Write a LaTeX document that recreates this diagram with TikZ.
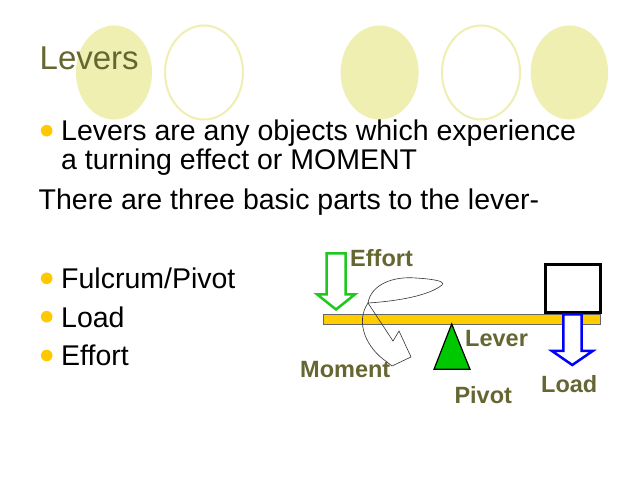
\documentclass[tikz,border=0pt]{standalone}
\usepackage{fontspec}
\setmainfont{Liberation Sans}
\definecolor{olive}{RGB}{102,102,51}
\definecolor{circfill}{RGB}{239,239,178}
\definecolor{bulletc}{RGB}{255,200,0}
\definecolor{bargold}{RGB}{255,204,0}
\definecolor{pivgreen}{RGB}{0,200,0}
\definecolor{effgreen}{RGB}{30,200,30}
\begin{document}
\begin{tikzpicture}[x=1pt,y=-1pt,
  deco/.style={fill=circfill,draw=none},
  decoring/.style={draw=circfill,line width=2pt,fill=white},
  bodytext/.style={anchor=base west,inner sep=0pt,font=\fontsize{28.5}{28.5}\selectfont},
  bul/.style={fill=bulletc,draw=none},
  lab/.style={anchor=base west,inner sep=0pt,text=olive,font=\fontsize{23.5}{23.5}\selectfont\bfseries},
  blockarrow/.style={line width=2.5pt,fill=white,line join=miter}
]
\useasboundingbox (0,0) rectangle (638,478);
\fill[white] (0,0) rectangle (638,478);
% decorative ellipses
\path[deco] (114,72.5) ellipse [x radius=38, y radius=47];
\path[decoring] (204,72.5) ellipse [x radius=39, y radius=47];
\path[deco] (379.6,72.5) ellipse [x radius=39, y radius=47];
\path[decoring] (481,72.5) ellipse [x radius=39, y radius=47];
\path[deco] (569.4,72.5) ellipse [x radius=38.7, y radius=47];
% title
\node[anchor=base west,inner sep=0pt,text=olive,font=\fontsize{33}{33}\selectfont] (title) at (39.5,69.5) {Levers};
% body text
\fill[bul] (46.7,130.7) circle (5.8);
\node[bodytext] (l1) at (61,141) {Levers are any objects which experience};
\node[bodytext] (l2) at (61,170) {a turning effect or MOMENT};
\node[bodytext] (l3) at (38.5,209.5) {There are three basic parts to the lever-};
\fill[bul] (46.7,278.3) circle (5.8);
\fill[bul] (46.7,316.7) circle (5.8);
\fill[bul] (46.7,355.5) circle (5.8);
\node[bodytext] (b1) at (61,289) {Fulcrum/Pivot};
\node[bodytext] (b2) at (61,327.5) {Load};
\node[bodytext] (b3) at (61,366) {Effort};
% lever bar
\draw[fill=bargold,draw=black!60,line width=0.6pt] (323.3,314) rectangle (600.7,324);
% load box
\draw[line width=3pt,fill=white] (545,264.5) rectangle (600.5,313);
% load arrow
\draw[blockarrow,draw=blue] (563.3,314.5) -- (581.7,314.5) -- (581.7,351) -- (592.7,351) -- (572.3,365) -- (552,351) -- (563.3,351) -- cycle;
% effort arrow
\draw[blockarrow,draw=effgreen] (326.7,253.3) -- (345.7,253.3) -- (345.7,294.3) -- (355,294.3) -- (336,309.5) -- (317,294.3) -- (326.7,294.3) -- cycle;
% pivot
\draw[fill=pivgreen,line width=1.2pt,line join=miter] (451.7,324) -- (470,369.3) -- (434,369.3) -- cycle;
% moment arrow
\draw[line width=0.6pt,draw=black!80]
  (368,303) .. controls (371,285) and (392,276) .. (416,278)
  .. controls (432,279) and (446,281) .. (442,285)
  .. controls (430,295) and (400,301) .. (368,303)
  -- (393,341) -- (399,331) -- (411,357) -- (392,366) -- (387,362)
  .. controls (366,348) and (355,322) .. (368,303);
% labels
\node[lab] (effort) at (350,266.5) {Effort};
\node[lab] (moment) at (300,377.3) {Moment};
\node[lab] (lever) at (465,346.7) {Lever};
\node[lab] (load) at (541,393) {Load};
\node[lab] (pivot) at (454.3,404) {Pivot};
\end{tikzpicture}
\end{document}
